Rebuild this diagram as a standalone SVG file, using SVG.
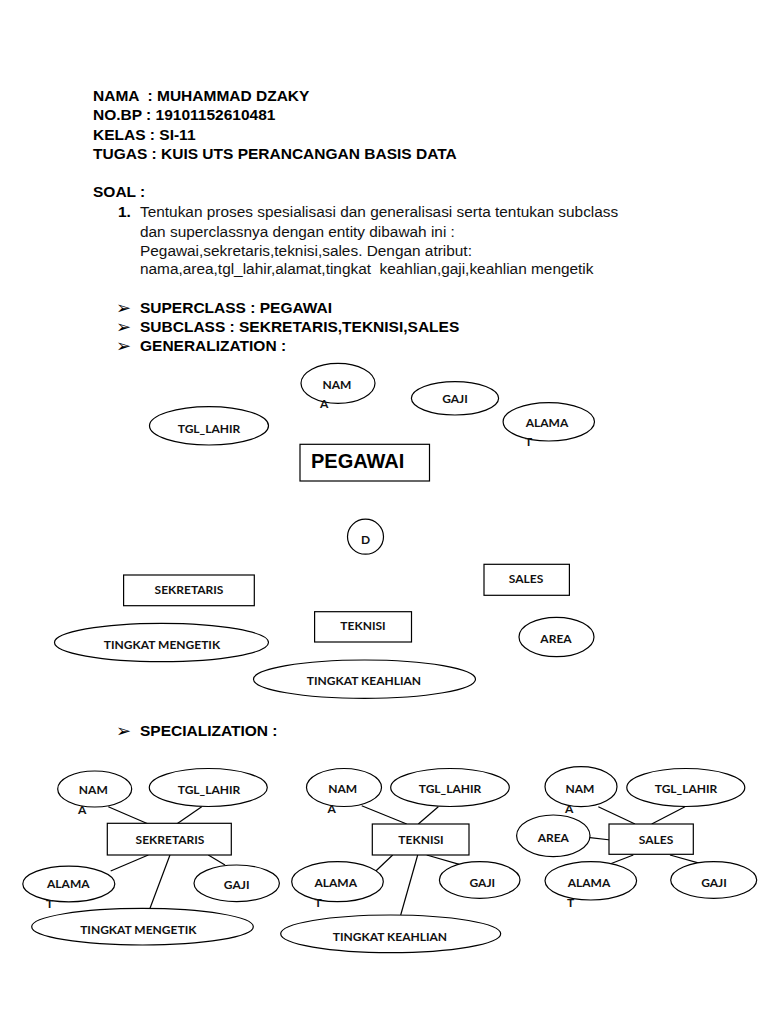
<svg xmlns="http://www.w3.org/2000/svg" width="768" height="1024" viewBox="0 0 768 1024">
<style>
.h{font-family:"Liberation Sans",Arial,sans-serif;font-weight:bold;font-size:15.5px;fill:#000;white-space:pre}
.p{font-family:"Liberation Sans",Arial,sans-serif;font-size:15.4px;fill:#111;white-space:pre}
.bul{font-family:"DejaVu Sans",sans-serif;font-weight:bold;font-size:18px;fill:#000}
.shape{fill:#fff;stroke:#000;stroke-width:1.2}
.lbl{font-family:Lato,"Open Sans",sans-serif;font-weight:bold;font-size:12px;fill:#111;text-anchor:middle}
.lbl2{font-family:Lato,"Open Sans",sans-serif;font-weight:bold;font-size:12px;fill:#111}
.big{font-family:"Liberation Sans",Arial,sans-serif;font-weight:bold;font-size:20px;fill:#000}
.conn line{stroke:#000;stroke-width:1.2}
</style>
<rect width="768" height="1024" fill="#fff"/>
<g id="header">
<text class="h" x="93" y="100.5">NAMA  : MUHAMMAD DZAKY</text>
<text class="h" x="93" y="120">NO.BP : 19101152610481</text>
<text class="h" x="93" y="139.5">KELAS : SI-11</text>
<text class="h" x="93" y="159">TUGAS : KUIS UTS PERANCANGAN BASIS DATA</text>
<text class="h" x="93" y="196.5">SOAL :</text>
<text class="h" x="118" y="217">1.</text>
<text class="p" x="140" y="217">Tentukan proses spesialisasi dan generalisasi serta tentukan subclass</text>
<text class="p" x="140" y="236.5">dan superclassnya dengan entity dibawah ini :</text>
<text class="p" x="140" y="255.5">Pegawai,sekretaris,teknisi,sales. Dengan atribut:</text>
<text class="p" x="140" y="274.3">nama,area,tgl_lahir,alamat,tingkat  keahlian,gaji,keahlian mengetik</text>
<text class="bul" x="116" y="313.5">➢</text>
<text class="h" x="140" y="313.3">SUPERCLASS : PEGAWAI</text>
<text class="bul" x="116" y="332.5">➢</text>
<text class="h" x="140" y="332">SUBCLASS : SEKRETARIS,TEKNISI,SALES</text>
<text class="bul" x="116" y="351.5">➢</text>
<text class="h" x="140" y="351">GENERALIZATION :</text>
<text class="bul" x="116" y="736.5">➢</text>
<text class="h" x="140" y="736">SPECIALIZATION :</text>
</g>
<!-- Generalization -->
<g id="g-nama"><ellipse class="shape" cx="338" cy="383.3" rx="37" ry="20"/><text class="lbl" x="337" y="389">NAM</text><text class="lbl2" x="320" y="407.5">A</text></g>
<g id="g-gaji"><ellipse class="shape" cx="455" cy="398.3" rx="43.6" ry="16.7"/><text class="lbl" x="455" y="403">GAJI</text></g>
<g id="g-alamat"><ellipse class="shape" cx="548.8" cy="421.8" rx="45.7" ry="19.2"/><text class="lbl" x="547" y="427">ALAMA</text><text class="lbl2" x="525" y="446">T</text></g>
<g id="g-tgl"><ellipse class="shape" cx="209" cy="425.8" rx="59.5" ry="19.2"/><text class="lbl" x="209" y="432.5">TGL_LAHIR</text></g>
<g id="g-pegawai"><rect class="shape" x="300" y="444.3" width="129.5" height="36.7"/><text class="big" x="311" y="467.5">PEGAWAI</text></g>
<g id="g-d"><ellipse class="shape" cx="365.5" cy="536.7" rx="18" ry="17.5"/><text class="lbl" x="365.5" y="544">D</text></g>
<g id="g-sekretaris"><rect class="shape" x="123.6" y="575" width="130.7" height="30.7"/><text class="lbl" x="189" y="593.5">SEKRETARIS</text></g>
<g id="g-sales"><rect class="shape" x="484" y="564.3" width="85.4" height="31"/><text class="lbl" x="526" y="583">SALES</text></g>
<g id="g-teknisi"><rect class="shape" x="314.6" y="611.7" width="96.9" height="30.3"/><text class="lbl" x="363" y="630">TEKNISI</text></g>
<g id="g-tm"><ellipse class="shape" cx="161.5" cy="642.5" rx="107" ry="19.2"/><text class="lbl" x="162" y="648.5">TINGKAT MENGETIK</text></g>
<g id="g-area"><ellipse class="shape" cx="556.5" cy="637" rx="37.5" ry="19.7"/><text class="lbl" x="556" y="643">AREA</text></g>
<g id="g-tk"><ellipse class="shape" cx="364.5" cy="679.2" rx="111" ry="19.2"/><text class="lbl" x="364" y="685">TINGKAT KEAHLIAN</text></g>
<!-- Specialization connectors -->
<g id="connectors" class="conn">
<line x1="108.3" y1="806.7" x2="148.3" y2="824"/>
<line x1="201.7" y1="806.7" x2="176.7" y2="824"/>
<line x1="148.3" y1="855" x2="110.7" y2="871"/>
<line x1="208.3" y1="855" x2="225" y2="865"/>
<line x1="170" y1="855" x2="150" y2="908.3"/>
<line x1="361.7" y1="805.7" x2="406.7" y2="824"/>
<line x1="438.3" y1="806.7" x2="418.3" y2="824"/>
<line x1="392.7" y1="855" x2="374" y2="872.7"/>
<line x1="426.7" y1="855" x2="459.3" y2="864.3"/>
<line x1="417.7" y1="855" x2="400.7" y2="915"/>
<line x1="598.3" y1="806.7" x2="635" y2="824"/>
<line x1="685" y1="806.7" x2="651.7" y2="824"/>
<line x1="590" y1="837.7" x2="610.7" y2="840"/>
<line x1="633.3" y1="855" x2="610" y2="864"/>
<line x1="670" y1="855" x2="700" y2="863.3"/>
</g>
<!-- Specialization: Sekretaris -->
<g id="s1-nama"><ellipse class="shape" cx="94.7" cy="789" rx="37" ry="18"/><text class="lbl" x="93.3" y="793.5">NAM</text><text class="lbl2" x="78" y="813.5">A</text></g>
<g id="s1-tgl"><ellipse class="shape" cx="208.3" cy="787.5" rx="59" ry="19"/><text class="lbl" x="209" y="793.5">TGL_LAHIR</text></g>
<g id="s1-sekretaris"><rect class="shape" x="107.3" y="823.3" width="124" height="31.7"/><text class="lbl" x="170" y="843.5">SEKRETARIS</text></g>
<g id="s1-alamat"><ellipse class="shape" cx="68.8" cy="884" rx="46" ry="17.8"/><text class="lbl" x="68.3" y="888">ALAMA</text><text class="lbl2" x="46" y="907.5">T</text></g>
<g id="s1-gaji"><ellipse class="shape" cx="236.7" cy="883.3" rx="42.7" ry="18.3"/><text class="lbl" x="236.7" y="888.5">GAJI</text></g>
<g id="s1-tm"><ellipse class="shape" cx="142.5" cy="926.7" rx="110.8" ry="18.3"/><text class="lbl" x="138.3" y="933.5">TINGKAT MENGETIK</text></g>
<!-- Specialization: Teknisi -->
<g id="s2-nama"><ellipse class="shape" cx="344" cy="787.5" rx="37.5" ry="19"/><text class="lbl" x="342.7" y="793">NAM</text><text class="lbl2" x="327.5" y="812.5">A</text></g>
<g id="s2-tgl"><ellipse class="shape" cx="450" cy="787.5" rx="59.3" ry="19"/><text class="lbl" x="450" y="793">TGL_LAHIR</text></g>
<g id="s2-teknisi"><rect class="shape" x="372.3" y="824" width="96.7" height="31"/><text class="lbl" x="421" y="843.5">TEKNISI</text></g>
<g id="s2-alamat"><ellipse class="shape" cx="337.5" cy="881.7" rx="45.8" ry="20"/><text class="lbl" x="335.7" y="887">ALAMA</text><text class="lbl2" x="314.5" y="907">T</text></g>
<g id="s2-gaji"><ellipse class="shape" cx="479.7" cy="880" rx="40.3" ry="18.3"/><text class="lbl" x="482.3" y="887">GAJI</text></g>
<g id="s2-tk"><ellipse class="shape" cx="390.7" cy="933.8" rx="110" ry="18.8"/><text class="lbl" x="390" y="941">TINGKAT KEAHLIAN</text></g>
<!-- Specialization: Sales -->
<g id="s3-nama"><ellipse class="shape" cx="581" cy="786.7" rx="36" ry="20"/><text class="lbl" x="580" y="793">NAM</text><text class="lbl2" x="565" y="812.5">A</text></g>
<g id="s3-tgl"><ellipse class="shape" cx="685.8" cy="787.5" rx="59" ry="19"/><text class="lbl" x="686" y="793">TGL_LAHIR</text></g>
<g id="s3-area"><ellipse class="shape" cx="553.3" cy="835.8" rx="36.7" ry="20.8"/><text class="lbl" x="553.3" y="841.5">AREA</text></g>
<g id="s3-sales"><rect class="shape" x="609" y="824" width="84.3" height="30.3"/><text class="lbl" x="656" y="843.5">SALES</text></g>
<g id="s3-alamat"><ellipse class="shape" cx="590.8" cy="880.8" rx="45.8" ry="19.2"/><text class="lbl" x="589" y="887">ALAMA</text><text class="lbl2" x="567" y="907">T</text></g>
<g id="s3-gaji"><ellipse class="shape" cx="713.7" cy="880" rx="43" ry="18.3"/><text class="lbl" x="714" y="887">GAJI</text></g>
</svg>
